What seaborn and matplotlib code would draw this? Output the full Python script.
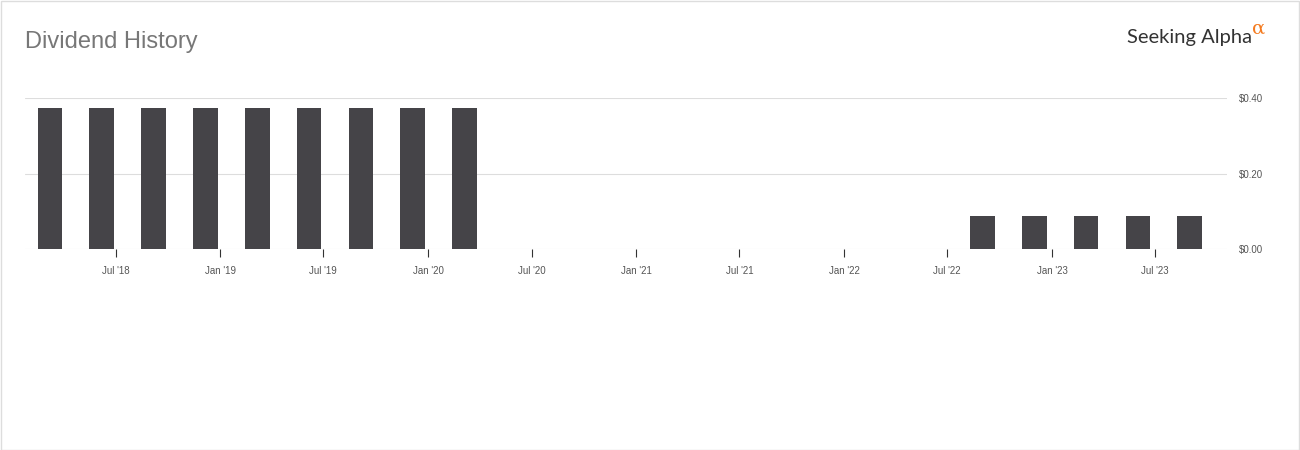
import numpy as np
import pandas as pd
import matplotlib
matplotlib.use("Agg")
import matplotlib.pyplot as plt
import matplotlib.dates as mdates
from matplotlib.ticker import FuncFormatter
from matplotlib.patches import Rectangle
import seaborn as sns

# ---- data ----
pay_dates = ["2018-03-08", "2018-06-07", "2018-09-06", "2018-12-06",
             "2019-03-07", "2019-06-06", "2019-09-05", "2019-12-05",
             "2020-03-05",
             "2022-09-01", "2022-12-01", "2023-03-02", "2023-06-01",
             "2023-08-31"]
dividends = [0.374, 0.374, 0.374, 0.374, 0.374, 0.374, 0.374, 0.374, 0.374,
             0.089, 0.089, 0.089, 0.089, 0.089]
y_ticks = [0.0, 0.2, 0.4]
x_start = "2018-01-23"
x_end = "2023-11-04"

df = pd.DataFrame({"date": pd.to_datetime(pay_dates), "dividend": dividends})
df["num"] = mdates.date2num(df["date"])

sns.set_theme(style="white")
plt.rcParams["font.family"] = ["Liberation Sans", "DejaVu Sans"]

W, H = 1300, 450
fig = plt.figure(figsize=(13, 4.5), dpi=100)
fig.patch.set_facecolor("white")

ax_left, ax_right = 25 / W, 1226.7 / W
ax_top, ax_bot = 98 / H, 249.3 / H
ax = fig.add_axes([ax_left, 1 - ax_bot, ax_right - ax_left, ax_bot - ax_top])

bar_color = "#454448"
sns.barplot(data=df, x="num", y="dividend", native_scale=True, width=0.477,
            color=bar_color, saturation=1, errorbar=None, ax=ax, linewidth=0)

ax.set_xlim(mdates.date2num(pd.Timestamp(x_start)), mdates.date2num(pd.Timestamp(x_end)))
ax.set_ylim(0, 0.4)

ax.xaxis.set_major_locator(mdates.MonthLocator(bymonth=[1, 7]))
ax.xaxis.set_major_formatter(mdates.DateFormatter("%b '%y"))
ax.yaxis.tick_right()
ax.set_yticks(y_ticks)
ax.yaxis.set_major_formatter(FuncFormatter(lambda v, p: "\\$%.2f" % v))

ax.set_xlabel("")
ax.set_ylabel("")
for s in ax.spines.values():
    s.set_visible(False)

ax.grid(axis="y", color="#dddddd", linewidth=0.8)
ax.grid(axis="x", visible=False)
ax.set_axisbelow(True)

ax.tick_params(axis="x", bottom=True, length=6, width=0.8, color="#333333",
               labelsize=7, labelcolor="#555555", pad=6, direction="out")
ax.tick_params(axis="y", right=True, left=False, length=0, labelsize=7,
               labelcolor="#555555", pad=9)

# title and logo
fig.text(25 / W, 1 - 48.3 / H, "Dividend History", fontsize=17, color="#777777",
         ha="left", va="baseline")
fig.text(1126.7 / W, 1 - 42.7 / H, "Seeking Alpha", fontsize=14.5, color="#333333",
         family=["Lato", "DejaVu Sans"], ha="left", va="baseline")
fig.text(1252 / W, 1 - 33.3 / H, "\u03b1", fontsize=14, color="#f47b20",
         family=["DejaVu Serif"], ha="left", va="baseline")

# border
fig.patches.append(Rectangle((0.5 / W, 0.5 / H), 1 - 1.5 / W, 1 - 1.5 / H,
                             transform=fig.transFigure, fill=False,
                             edgecolor="#dddddd", linewidth=1.0))

fig.savefig("out.png", dpi=100, facecolor="white")
